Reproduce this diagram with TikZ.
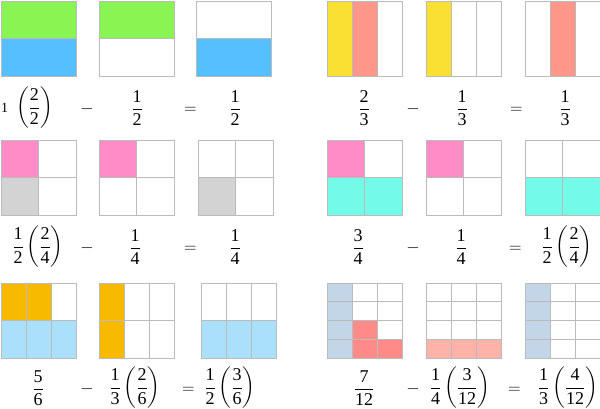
\documentclass[tikz,border=0pt]{standalone}
\usepackage{amsmath}
\usepackage{fontspec}
\setmainfont{Liberation Serif}
\definecolor{gl}{HTML}{BBBBBB}
\definecolor{cgreen}{HTML}{88F552}
\definecolor{cblue}{HTML}{55BFFF}
\definecolor{cyel}{HTML}{F9E032}
\definecolor{csal}{HTML}{FF968A}
\definecolor{cpink}{HTML}{FF8CC6}
\definecolor{cgray}{HTML}{D3D3D3}
\definecolor{ccyan}{HTML}{74FBE8}
\definecolor{corange}{HTML}{F8BA00}
\definecolor{clblue}{HTML}{AAE0FC}
\definecolor{csteel}{HTML}{C2D6E8}
\definecolor{cred}{HTML}{FF8A88}
\definecolor{clred}{HTML}{FFB2A8}
\newcommand\fr[2]{\dfrac{\mbox{#1}}{\mbox{#2}}}
\newcommand\smallone{\mbox{\fontsize{14}{16}\selectfont 1}}
% grid box: x y cols rows
\newcommand\gridbox[4]{%
  \begin{scope}[shift={(#1,#2)}]
    \pgfmathsetmacro\cw{75/#3}\pgfmathsetmacro\ch{75/#4}
    \foreach \i in {1,...,#3} {\draw[gline] (\i*\cw,0) -- (\i*\cw,75);}
    \foreach \j in {1,...,#4} {\draw[gline] (0,\j*\ch) -- (75,\j*\ch);}
    \draw[gline] (0,0) rectangle (75,75);
  \end{scope}}
% cell fill: x y cols rows col row color
\newcommand\cellfill[7]{%
  \fill[#7] ({#1+#5*75/#3},{#2+#6*75/#4}) rectangle ({#1+(#5+1)*75/#3},{#2+(#6+1)*75/#4});}
\begin{document}
\begin{tikzpicture}[x=1pt,y=-1pt,
  gline/.style={draw=gl,line width=0.9pt},
  txt/.style={inner sep=0pt,font=\fontsize{18}{22}\selectfont,anchor=center}]
\useasboundingbox (0,0) rectangle (600,409);
\fill[white] (0,0) rectangle (600,409);
% ---------- Row 1 left (halves) ----------
\cellfill{1}{1}{1}{2}{0}{0}{cgreen}
\cellfill{1}{1}{1}{2}{0}{1}{cblue}
\gridbox{1}{1}{1}{2}
\cellfill{99}{1}{1}{2}{0}{0}{cgreen}
\gridbox{99}{1}{1}{2}
\cellfill{196}{1}{1}{2}{0}{1}{cblue}
\gridbox{196}{1}{1}{2}
% ---------- Row 1 right (thirds) ----------
\cellfill{327}{1}{3}{1}{0}{0}{cyel}
\cellfill{327}{1}{3}{1}{1}{0}{csal}
\gridbox{327}{1}{3}{1}
\cellfill{426}{1}{3}{1}{0}{0}{cyel}
\gridbox{426}{1}{3}{1}
\cellfill{525}{1}{3}{1}{1}{0}{csal}
\gridbox{525}{1}{3}{1}
% ---------- Row 2 left (quarters) ----------
\cellfill{1}{140}{2}{2}{0}{0}{cpink}
\cellfill{1}{140}{2}{2}{0}{1}{cgray}
\gridbox{1}{140}{2}{2}
\cellfill{99}{140}{2}{2}{0}{0}{cpink}
\gridbox{99}{140}{2}{2}
\cellfill{198}{140}{2}{2}{0}{1}{cgray}
\gridbox{198}{140}{2}{2}
% ---------- Row 2 right ----------
\cellfill{327}{140}{2}{2}{0}{0}{cpink}
\cellfill{327}{140}{2}{2}{0}{1}{ccyan}
\cellfill{327}{140}{2}{2}{1}{1}{ccyan}
\gridbox{327}{140}{2}{2}
\cellfill{426}{140}{2}{2}{0}{0}{cpink}
\gridbox{426}{140}{2}{2}
\cellfill{525}{140}{2}{2}{0}{1}{ccyan}
\cellfill{525}{140}{2}{2}{1}{1}{ccyan}
\gridbox{525}{140}{2}{2}
% ---------- Row 3 left (sixths) ----------
\cellfill{1}{283}{3}{2}{0}{0}{corange}
\cellfill{1}{283}{3}{2}{1}{0}{corange}
\cellfill{1}{283}{3}{2}{0}{1}{clblue}
\cellfill{1}{283}{3}{2}{1}{1}{clblue}
\cellfill{1}{283}{3}{2}{2}{1}{clblue}
\gridbox{1}{283}{3}{2}
\cellfill{99}{283}{3}{2}{0}{0}{corange}
\cellfill{99}{283}{3}{2}{0}{1}{corange}
\gridbox{99}{283}{3}{2}
\cellfill{201}{283}{3}{2}{0}{1}{clblue}
\cellfill{201}{283}{3}{2}{1}{1}{clblue}
\cellfill{201}{283}{3}{2}{2}{1}{clblue}
\gridbox{201}{283}{3}{2}
% ---------- Row 3 right (twelfths) ----------
\foreach \r in {0,1,2,3} {\cellfill{327}{283}{3}{4}{0}{\r}{csteel}}
\cellfill{327}{283}{3}{4}{1}{2}{cred}
\cellfill{327}{283}{3}{4}{1}{3}{cred}
\cellfill{327}{283}{3}{4}{2}{3}{cred}
\gridbox{327}{283}{3}{4}
\foreach \c in {0,1,2} {\cellfill{426}{283}{3}{4}{\c}{3}{clred}}
\gridbox{426}{283}{3}{4}
\foreach \r in {0,1,2,3} {\cellfill{525}{283}{3}{4}{0}{\r}{csteel}}
\gridbox{525}{283}{3}{4}
% ---------- Equations ----------
% row 1 left
\node[txt] (a1) at (27,108) {$\smallone\hspace{5pt}\left(\fr{2}{2}\right)$};
\node[txt] (a2) at (87,108) {$\vphantom{\fr12}-$};
\node[txt] (a3) at (137,108) {$\fr{1}{2}$};
\node[txt] (a4) at (188,108) {$\vphantom{\fr12}=$};
\node[txt] (a5) at (235,108) {$\fr{1}{2}$};
% row 1 right
\node[txt] (b1) at (364,108) {$\fr{2}{3}$};
\node[txt] (b2) at (413,108) {$\vphantom{\fr12}-$};
\node[txt] (b3) at (462,108) {$\fr{1}{3}$};
\node[txt] (b4) at (514,108) {$\vphantom{\fr12}=$};
\node[txt] (b5) at (565,108) {$\fr{1}{3}$};
% row 2 left
\node[txt] (c1) at (38,247) {$\fr{1}{2}\left(\fr{2}{4}\right)$};
\node[txt] (c2) at (87,247) {$\vphantom{\fr12}-$};
\node[txt] (c3) at (135,247) {$\fr{1}{4}$};
\node[txt] (c4) at (188,247) {$\vphantom{\fr12}=$};
\node[txt] (c5) at (235,247) {$\fr{1}{4}$};
% row 2 right
\node[txt] (d1) at (358,247) {$\fr{3}{4}$};
\node[txt] (d2) at (413,247) {$\vphantom{\fr12}-$};
\node[txt] (d3) at (461,247) {$\fr{1}{4}$};
\node[txt] (d4) at (513,247) {$\vphantom{\fr12}=$};
\node[txt] (d5) at (567,247) {$\fr{1}{2}\left(\fr{2}{4}\right)$};
% row 3 left
\node[txt] (e1) at (38,388) {$\fr{5}{6}$};
\node[txt] (e2) at (87,388) {$\vphantom{\fr12}-$};
\node[txt] (e3) at (135,388) {$\fr{1}{3}\left(\fr{2}{6}\right)$};
\node[txt] (e4) at (186,388) {$\vphantom{\fr12}=$};
\node[txt] (e5) at (230,388) {$\fr{1}{2}\left(\fr{3}{6}\right)$};
% row 3 right
\node[txt] (f1) at (364,388) {$\fr{7}{12}$};
\node[txt] (f2) at (413,388) {$\vphantom{\fr12}-$};
\node[txt] (f3) at (460,388) {$\fr{1}{4}\left(\fr{3}{12}\right)$};
\node[txt] (f4) at (512,388) {$\vphantom{\fr12}=$};
\node[txt] (f5) at (568,388) {$\fr{1}{3}\left(\fr{4}{12}\right)$};
\end{tikzpicture}
\end{document}
